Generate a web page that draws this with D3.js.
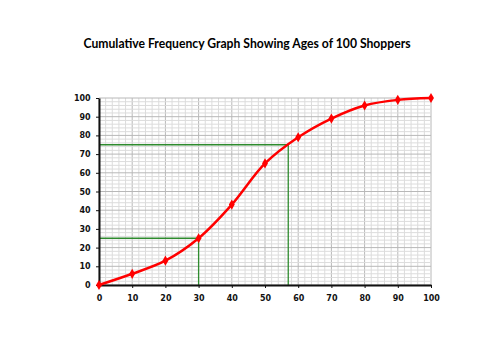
<!DOCTYPE html>
<html>
<head>
<meta charset="utf-8">
<script src="https://cdn.jsdelivr.net/npm/d3@7"></script>
<style>
  body { margin: 0; background: white; }
</style>
</head>
<body>
<div id="chart"></div>
<script>
let w = 500, h = 354;

// ages (upper class boundaries) and cumulative frequency
let ages = [0, 10, 20, 30, 40, 50, 60, 70, 80, 90, 100];
let cumFreq = [0, 6, 13, 25, 43, 65, 79, 89, 96, 99, 100];
let xTicks = [0, 10, 20, 30, 40, 50, 60, 70, 80, 90, 100];
let yTicks = [0, 10, 20, 30, 40, 50, 60, 70, 80, 90, 100];
// readings taken off the curve: [cumulative freq, age]
let readCF = [25, 75];
let readAge = [30, 57];

let svg = d3.select("#chart")
    .append("svg")
    .attr("width", w)
    .attr("height", h)
    .style("background-color", "white");

let xScale = d3.scaleLinear().domain([0, 100]).range([99, 431]);
let yScale = d3.scaleLinear().domain([0, 100]).range([285, 98]);

// title
svg.append("text")
    .attr("x", 247)
    .attr("y", 48)
    .attr("text-anchor", "middle")
    .style("font-family", "Lato, sans-serif")
    .style("font-weight", "bold")
    .style("font-size", "13px")
    .attr("textLength", 327)
    .attr("lengthAdjust", "spacingAndGlyphs")
    .text("Cumulative Frequency Graph Showing Ages of 100 Shoppers");

// minor grid every 2, major every 10
let minor = d3.range(0, 101, 2);
let grid = svg.append("g").attr("class", "grid");
grid.selectAll(".vx").data(minor).enter().append("line")
    .attr("x1", d => xScale(d)).attr("x2", d => xScale(d))
    .attr("y1", yScale(0)).attr("y2", yScale(100))
    .attr("stroke", d => d % 10 == 0 ? "#b8b8b8" : "#dcdcdc")
    .attr("stroke-width", 1);
grid.selectAll(".hy").data(minor).enter().append("line")
    .attr("y1", d => yScale(d)).attr("y2", d => yScale(d))
    .attr("x1", xScale(0)).attr("x2", xScale(100))
    .attr("stroke", d => d % 10 == 0 ? "#b8b8b8" : "#dcdcdc")
    .attr("stroke-width", 1);

// reading lines
let reads = readCF.map((c, i) => ({cf: c, age: readAge[i]}));
let readGroup = svg.append("g");
reads.forEach(r => {
  readGroup.append("path")
    .attr("d", "M" + xScale(0) + "," + yScale(r.cf) + "H" + xScale(r.age) + "V" + yScale(0))
    .attr("fill", "none")
    .attr("stroke", "#2e8b2e")
    .attr("stroke-width", 1.3);
});

// axes
let xAxis = d3.axisBottom(xScale).tickValues(xTicks).tickSize(3).tickSizeOuter(0);
let yAxis = d3.axisLeft(yScale).tickValues(yTicks).tickSize(3).tickSizeOuter(0);

let xAxisGroup = svg.append("g").attr("transform", "translate(0," + yScale(0) + ")").call(xAxis);
let yAxisGroup = svg.append("g").attr("transform", "translate(" + xScale(0) + ",0)").call(yAxis);

[xAxisGroup, yAxisGroup].forEach(g => {
  g.select(".domain").attr("stroke", "#111").attr("stroke-width", 2);
  g.selectAll(".tick line").attr("stroke", "#111");
  g.selectAll("text")
    .style("font-family", "'DejaVu Sans', sans-serif")
    .style("font-weight", "bold")
    .style("font-size", "8px")
    .attr("fill", "#111");
});
xAxisGroup.selectAll("text").attr("dy", "1.3em");
yAxisGroup.selectAll("text").attr("dx", "-0.3em");

// curve
let pts = ages.map((a, i) => ({age: a, cf: cumFreq[i]}));
let line = d3.line()
    .x(d => xScale(d.age))
    .y(d => yScale(d.cf))
    .curve(d3.curveCatmullRom.alpha(0.5));

svg.append("path")
    .datum(pts)
    .attr("d", line)
    .attr("fill", "none")
    .attr("stroke", "#ff0000")
    .attr("stroke-width", 2.5);

svg.selectAll(".marker").data(pts).enter().append("path")
    .attr("class", "marker")
    .attr("transform", d => "translate(" + xScale(d.age) + "," + yScale(d.cf) + ")")
    .attr("d", d3.symbol().type(d3.symbolDiamond).size(30))
    .attr("fill", "#ff0000");
</script>
</body>
</html>
